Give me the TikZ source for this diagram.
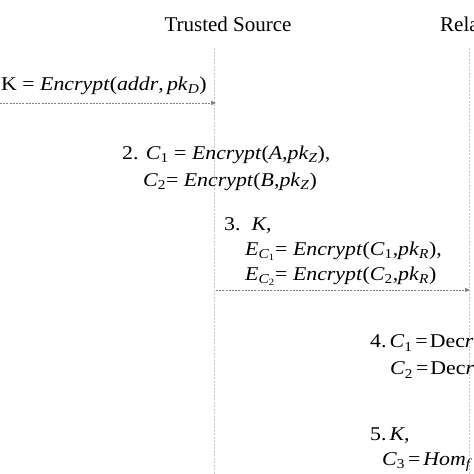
\documentclass[tikz,border=0pt]{standalone}
\usepackage{fontspec}
\setmainfont{Liberation Serif}
\newfontfamily\lblfont{Liberation Serif}[FakeStretch=1.12]
\newcommand\vi[1]{\textit{#1}}
\newcommand\sbs[1]{\textsubscript{#1}}
\usetikzlibrary{arrows.meta}
\begin{document}
\begin{tikzpicture}[x=1pt,y=-1pt,
  lifeline/.style={draw=black!22, line width=0.8pt, dash pattern=on 2pt off 1.5pt},
  msg/.style={draw=black!50, line width=0.8pt, dash pattern=on 2pt off 1.2pt, -{Triangle[length=5pt,width=4pt]}},
  lbl/.style={inner sep=0pt, anchor=west, font=\lblfont\fontsize{19.5}{23}\selectfont},
  head/.style={inner sep=0pt, font=\fontsize{21}{25}\selectfont}]
\clip (0,0) rectangle (474,474);
\fill[white] (0,0) rectangle (474,474);
\node[head] (ts) at (228,24) {Trusted Source};
\node[head, anchor=west] (rel) at (440,24) {Rela};
\coordinate (tsTop) at (214,48);
\coordinate (tsBot) at (214,474);
\coordinate (rTop) at (469,48);
\coordinate (rBot) at (469,474);
\draw[lifeline] (tsTop) -- (tsBot);
\draw[lifeline] (rTop) -- (rBot);
\coordinate (m1s) at (0,103);
\coordinate (m1e) at (216,103);
\draw[msg] (m1s) -- (m1e);
\coordinate (m3s) at (216,290);
\coordinate (m3e) at (470,290);
\draw[msg] (m3s) -- (m3e);
\node[lbl] (l1) at (1,86) {K = \vi{Encrypt}(\vi{addr},\,\vi{pk}\sbs{\vi{D}})};
\node[lbl] (l2a) at (122,155) {2. \vi{C}\sbs{1} = \vi{Encrypt}(\vi{A},\vi{pk}\sbs{\vi{Z}}),};
\node[lbl] (l2b) at (143,182) {\vi{C}\sbs{2}= \vi{Encrypt}(\vi{B},\vi{pk}\sbs{\vi{Z}})};
\node[lbl] (l3a) at (224,226) {3.\ \ \vi{K},};
\node[lbl] (l3b) at (245,251) {\vi{E}\sbs{\vi{C}\sbs{1}}= \vi{Encrypt}(\vi{C}\sbs{1},\vi{pk}\sbs{\vi{R}}),};
\node[lbl] (l3c) at (245,276) {\vi{E}\sbs{\vi{C}\sbs{2}}= \vi{Encrypt}(\vi{C}\sbs{2},\vi{pk}\sbs{\vi{R}})};
\node[lbl] (l4a) at (370,343) {4.\hspace{3pt}\vi{C}\sbs{1}\hspace{3pt}=\hspace{2pt}Dec\vi{r}};
\node[lbl] (l4b) at (390,370) {\vi{C}\sbs{2}\hspace{3pt}=\hspace{2pt}Dec\vi{r}};
\node[lbl] (l5a) at (370,436) {5.\hspace{3pt}\vi{K},};
\node[lbl] (l5b) at (382,462) {\vi{C}\sbs{3}\hspace{3pt}=\hspace{3pt}\vi{Hom}\sbs{\vi{f}}};
\end{tikzpicture}
\end{document}
